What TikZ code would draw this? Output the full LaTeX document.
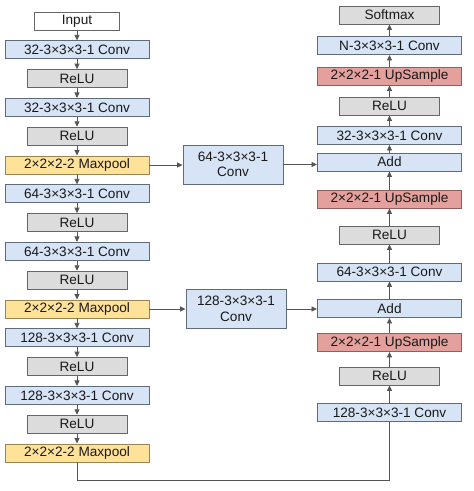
\documentclass[tikz,border=0pt]{standalone}
\usepackage{fontspec}
\setmainfont{Liberation Sans}
\usetikzlibrary{arrows.meta}
\definecolor{bfill}{HTML}{D6E4F5}
\definecolor{bdraw}{HTML}{5F6B7A}
\definecolor{gfill}{HTML}{DCDCDC}
\definecolor{gdraw}{HTML}{666666}
\definecolor{yfill}{HTML}{FFE29A}
\definecolor{ydraw}{HTML}{9A8550}
\definecolor{rfill}{HTML}{E4A09C}
\definecolor{rdraw}{HTML}{8E5F5C}
\definecolor{ldraw}{HTML}{555555}
\tikzset{
  box/.style={draw, line width=0.9pt, inner sep=0pt, minimum height=18pt,
    font=\fontsize{13.6}{15.5}\selectfont, text=black!90},
  wide/.style={box, minimum width=144pt},
  narrow/.style={box, minimum width=100pt},
  conv/.style={wide, fill=bfill, draw=bdraw},
  relu/.style={narrow, fill=gfill, draw=gdraw},
  pool/.style={wide, fill=yfill, draw=ydraw},
  up/.style={wide, fill=rfill, draw=rdraw},
  inbox/.style={box, minimum width=85pt, fill=white, draw=gdraw},
  midbox/.style={box, minimum width=100pt, minimum height=39pt, fill=bfill, draw=bdraw, align=center},
  arr/.style={draw=ldraw, line width=0.8pt, -{Triangle[length=5.5pt,width=5pt]}},
  ln/.style={draw=ldraw, line width=0.8pt}
}
\begin{document}
\begin{tikzpicture}[x=1pt,y=-1pt]
\useasboundingbox (0,0) rectangle (474,491);
% left column
\node[inbox] (in) at (77,21) {Input};
\node[conv] (c1) at (77,49.8) {32-3×3×3-1 Conv};
\node[relu] (r1) at (77,78.6) {ReLU};
\node[conv] (c2) at (77,107.4) {32-3×3×3-1 Conv};
\node[relu] (r2) at (77,136.2) {ReLU};
\node[pool] (p1) at (77,165) {2×2×2-2 Maxpool};
\node[conv] (c3) at (77,193.8) {64-3×3×3-1 Conv};
\node[relu] (r3) at (77,222.6) {ReLU};
\node[conv] (c4) at (77,251.4) {64-3×3×3-1 Conv};
\node[relu] (r4) at (77,280.2) {ReLU};
\node[pool] (p2) at (77,309) {2×2×2-2 Maxpool};
\node[conv] (c5) at (77,337.8) {128-3×3×3-1 Conv};
\node[relu] (r5) at (77,366.6) {ReLU};
\node[conv] (c6) at (77,395.4) {128-3×3×3-1 Conv};
\node[relu] (r6) at (77,424.2) {ReLU};
\node[pool] (p3) at (77,453) {2×2×2-2 Maxpool};
% middle
\node[midbox] (m1) at (233,164.5) {64-3×3×3-1\\Conv};
\node[midbox] (m2) at (236,309) {128-3×3×3-1\\Conv};
% right column
\node[relu] (sm) at (389.5,15) {Softmax};
\node[conv] (d1) at (389.5,45.5) {N-3×3×3-1 Conv};
\node[up] (u1) at (389.5,76) {2×2×2-1 UpSample};
\node[relu] (dr1) at (389.5,106) {ReLU};
\node[conv] (d2) at (389.5,135.5) {32-3×3×3-1 Conv};
\node[conv] (a1) at (389.5,162) {Add};
\node[up] (u2) at (389.5,199) {2×2×2-1 UpSample};
\node[relu] (dr2) at (389.5,235) {ReLU};
\node[conv] (d3) at (389.5,272) {64-3×3×3-1 Conv};
\node[conv] (a2) at (389.5,308.5) {Add};
\node[up] (u3) at (389.5,342.5) {2×2×2-1 UpSample};
\node[relu] (dr3) at (389.5,376) {ReLU};
\node[conv] (d4) at (389.5,412.5) {128-3×3×3-1 Conv};
\coordinate (bl) at (77,480);
% left arrows
\foreach \a/\b in {in/c1,c1/r1,r1/c2,c2/r2,r2/p1,p1/c3,c3/r3,r3/c4,c4/r4,r4/p2,p2/c5,c5/r5,r5/c6,c6/r6,r6/p3}
  \draw[arr] (\a.south) -- (\b.north);
% right arrows
\foreach \a/\b in {d4/dr3,dr3/u3,u3/a2,a2/d3,d3/dr2,dr2/u2,u2/a1,a1/d2,d2/dr1,dr1/u1,u1/d1,d1/sm}
  \draw[arr] (\a.north) -- (\b.south);
% skip connections
\draw[arr] (p1.east) -- (p1.east -| m1.west);
\draw[arr] (m1.east) -- (m1.east -| a1.west);
\draw[arr] (p2.east) -- (p2.east -| m2.west);
\draw[arr] (m2.east) -- (m2.east -| a2.west);
\draw[ln] (p3.south) -- (bl) -| (d4.south);
\end{tikzpicture}
\end{document}
